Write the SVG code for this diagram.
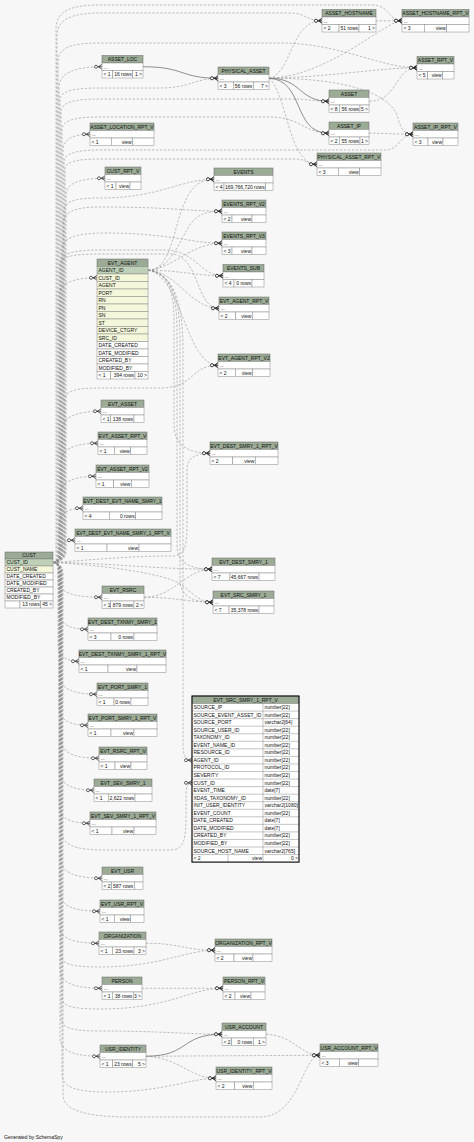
<svg xmlns="http://www.w3.org/2000/svg" width="474" height="1142" viewBox="0 0 474 1142">
<style>
.h{fill:#9bab96;stroke:#666;stroke-width:.5}
.w{fill:#fff;stroke:#888;stroke-width:.5}
.k{fill:#bed1b8;stroke:#888;stroke-width:.5}
.y{fill:#f4f7da;stroke:#888;stroke-width:.5}
.g{fill:none;stroke:#888;stroke-width:.5}
text{font-family:"Liberation Sans",Arial,sans-serif;font-size:5px;fill:#111}
.c{text-anchor:middle}
.r{text-anchor:end}
.e{fill:none;stroke:#8c8c8c;stroke-width:.55;stroke-dasharray:2.4,1.6;marker-end:url(#cf)}
.s{fill:none;stroke:#555;stroke-width:.65;marker-end:url(#cf)}
</style>
<defs>
<marker id="cf" viewBox="0 0 8 6" refX="8" refY="3" markerWidth="8" markerHeight="6" markerUnits="userSpaceOnUse" orient="auto">
<circle cx="2" cy="3" r="1.5" fill="#fff" stroke="#222" stroke-width=".7"/>
<path d="M8,0.6 L4.3,3 L8,5.4 M3.6,3 H8" fill="none" stroke="#222" stroke-width=".7"/>
</marker>
</defs>
<rect x="0" y="0" width="474" height="1142" fill="#f7f7f7"/>
<g id="connectors">
<path class="e" d="M53,562.5 C57,562.5 56,560 56,552 L56,30 C56,12 68,5 100,5 L372,5 C390,5 388,20.75 402,20.75"/>
<path class="e" d="M53,562.5 C57,562.5 57,560 57,552 L57,36 C57,20 70,13 100,13 L290,13 C306,13 306,20.75 322,20.75"/>
<path class="e" d="M53,562.5 C57,562.5 58,560 58,552 L58,62 C58,48 70,43 100,43 L280,43 C340,43 380,67.75 417,67.75"/>
<path class="e" d="M53,562.5 C57,562.5 59,560 59,552 L59,88 C59,74 72,66.75 102,66.75"/>
<path class="e" d="M53,562.5 C57,562.5 60,560 60,552 L60,100 C60,92 70,88 100,88 L160,88 C190,88 195,78.25 218,78.25"/>
<path class="e" d="M53,562.5 C57,562.5 61,560 61,552 L61,112 C61,103 72,99 100,99 L290,99 C310,99 312,101.25 329,101.25"/>
<path class="e" d="M53,562.5 C57,562.5 62,560 62,552 L62,130 C62,121 72,117 100,117 L270,117 C300,117 305,133.25 329,133.25"/>
<path class="e" d="M53,562.5 C57,562.5 63,560 63,552 L63,150 C63,140 72,134.25 90,134.25"/>
<path class="e" d="M53,562.5 C57,562.5 64,560 64,552 L64,162 C64,154 74,150 100,150 L385,150 C400,150 400,134.25 413,134.25"/>
<path class="e" d="M53,562.5 C57,562.5 65,560 65,552 L65,170 C65,162 75,159 100,159 L295,159 C306,159 307,164.25 317,164.25"/>
<path class="e" d="M53,562.5 C57,562.5 66,560 66,552 L66,195 C66,184 78,178.25 105,178.25"/>
<path class="e" d="M53,562.5 C57,562.5 64,560 64,552 L64,212 C64,202 72,198 100,198 C160,198 180,179.25 214,179.25"/>
<path class="e" d="M53,562.5 C57,562.5 63,560 63,552 L63,225 C63,213 72,207 100,207 C170,207 190,211.25 222,211.25"/>
<path class="e" d="M53,562.5 C57,562.5 62,560 62,552 L62,250 C62,238 75,233 105,233 C170,233 190,243.25 222,243.25"/>
<path class="e" d="M53,562.5 C57,562.5 61,560 61,552 L61,262 C61,254 72,250 100,250 L165,250 C195,250 200,275.75 223,275.75"/>
<path class="e" d="M53,562.5 C57,562.5 60,560 60,552 L60,265 C60,257 70,254 100,254 L170,254 C200,254 195,308.25 219,308.25"/>
<path class="e" d="M53,562.5 C57,562.5 59,560 59,552 L59,296 C59,284 72,277.75 97,277.75"/>
<path class="e" d="M53,562.5 C57,562.5 65,560 65,552 L65,400 C65,391 75,388 100,388 L160,388 C195,388 190,365.25 218,365.25"/>
<path class="e" d="M53,562.5 C57,562.5 62,560 62,552 L62,430 C62,418 75,411.25 101,411.25"/>
<path class="e" d="M53,562.5 C57,562.5 61,560 61,552 L61,462 C61,450 73,443.25 98,443.25"/>
<path class="e" d="M53,562.5 C57,562.5 60,560 60,552 L60,495 C60,483 72,476.25 96,476.25"/>
<path class="e" d="M53,562.5 C57,562.5 59,560 59,552 L59,526 C59,514 67,508.25 83,508.25"/>
<path class="e" d="M53,562.5 C57,562.5 58,559 58,555 C58,545 64,540.25 75,540.25"/>
<path class="e" d="M53,562.5 C90,560 130,556 172,556 C186,556 187,545 187,520 L187,470 C187,458 195,453.25 210,453.25"/>
<path class="e" d="M53,562.5 C100,562.5 160,569.25 212,569.25"/>
<path class="e" d="M53,562.5 C100,565 150,572 172,580 C190,587 195,602.25 213,602.25"/>
<path class="e" d="M53,562.5 C57,562.5 58,566 58,572 L58,580 C58,592 72,597.25 102,597.25"/>
<path class="e" d="M53,562.5 C57,562.5 59,565 59,573 L59,612 C59,623 68,629.25 88,629.25"/>
<path class="e" d="M53,562.5 C57,562.5 58,565 58,573 L58,644 C58,655 65,661.25 79,661.25"/>
<path class="e" d="M53,562.5 C57,562.5 60,565 60,573 L60,676 C60,688 72,694.25 97,694.25"/>
<path class="e" d="M53,562.5 C57,562.5 59,565 59,573 L59,707 C59,719 68,725.25 88,725.25"/>
<path class="e" d="M53,562.5 C57,562.5 61,565 61,573 L61,740 C61,752 73,758.25 99,758.25"/>
<path class="e" d="M53,562.5 C57,562.5 60,565 60,573 L60,772 C60,784 72,790.25 94,790.25"/>
<path class="e" d="M53,562.5 C57,562.5 59,565 59,573 L59,805 C59,817 68,823.25 90,823.25"/>
<path class="e" d="M53,562.5 C57,562.5 62,565 62,573 L62,832 C62,845 75,850 105,850 L170,850 C184,850 186,840 186,815 L186,795 C186,786 188,782.8 192,782.8"/>
<path class="e" d="M53,562.5 C57,562.5 61,565 61,573 L61,860 C61,872 75,878.25 102,878.25"/>
<path class="e" d="M53,562.5 C57,562.5 60,565 60,573 L60,893 C60,905 72,911.25 100,911.25"/>
<path class="e" d="M53,562.5 C57,562.5 59,565 59,573 L59,925 C59,937 70,943.25 99,943.25"/>
<path class="e" d="M53,562.5 C57,562.5 61,565 61,573 L61,955 C61,964 72,967 100,967 C160,967 185,950.25 215,950.25"/>
<path class="e" d="M53,562.5 C57,562.5 60,565 60,573 L60,970 C60,982 72,988.25 102,988.25"/>
<path class="e" d="M53,562.5 C57,562.5 62,565 62,573 L62,998 C62,1006 72,1009 100,1009 C170,1009 190,988.25 223,988.25"/>
<path class="e" d="M53,562.5 C57,562.5 61,565 61,573 L61,1018 C61,1028 72,1031 100,1031 C160,1031 190,1034.25 222,1034.25"/>
<path class="e" d="M53,562.5 C57,562.5 60,565 60,573 L60,1038 C60,1050 72,1056.25 100,1056.25"/>
<path class="e" d="M53,562.5 C57,562.5 62,565 62,573 L62,1075 C62,1086 75,1092 105,1092 C165,1092 190,1078.25 216,1078.25"/>
<path class="e" d="M53,562.5 C57,562.5 63,565 63,573 L63,1095 C63,1110 85,1117 130,1117 L260,1117 C300,1117 302,1055.25 320,1055.25"/>
<path class="e" d="M148,270.25 C168,270 172,240 180,215 C188,190 197,179.25 214,179.25"/>
<path class="e" d="M148,270.25 C170,269 178,245 188,228 C196,214 206,211.25 222,211.25"/>
<path class="e" d="M148,270.25 C175,268 190,243.25 222,243.25"/>
<path class="e" d="M148,270.25 C180,270.25 195,275.75 223,275.75"/>
<path class="e" d="M148,270.25 C178,272 190,308.25 219,308.25"/>
<path class="e" d="M148,270.25 C182,276 186,365.25 218,365.25"/>
<path class="e" d="M148,270.25 C168,272 174,292 174,320 L174,425 C174,445 188,453.25 210,453.25"/>
<path class="e" d="M148,270.25 C170,272 177,295 177,330 L177,545 C177,563 190,569.25 212,569.25"/>
<path class="e" d="M148,270.25 C172,273 180,298 180,340 L180,580 C180,596 193,602.25 213,602.25"/>
<path class="e" d="M148,270.25 C174,274 183,302 183,350 L183,745 C183,756 186,760.2 192,760.2"/>
<path class="e" d="M144,597.25 C175,597 185,569.25 212,569.25"/>
<path class="e" d="M144,597.25 C175,597.25 190,602.25 213,602.25"/>
<path class="s" d="M143,66.75 C185,66.75 180,78.25 218,78.25"/>
<path class="s" d="M269,78.25 C302,78.25 298,101.25 329,101.25"/>
<path class="s" d="M269,78.25 C305,80 292,133.25 329,133.25"/>
<path class="e" d="M269,78.25 C292,74 290,20.75 322,20.75"/>
<path class="e" d="M269,78.25 C330,76 385,20.75 402,20.75"/>
<path class="e" d="M269,78.25 C330,77 380,67.75 417,67.75"/>
<path class="e" d="M269,78.25 C350,78 392,95 398,118 C401,130 405,134.25 413,134.25"/>
<path class="e" d="M269,78.25 C288,95 288,164.25 317,164.25"/>
<path class="e" d="M376,20.75 L402,20.75"/>
<path class="e" d="M369,101.25 C398,101 395,67.75 417,67.75"/>
<path class="e" d="M369,133.25 C390,133.25 395,134.25 413,134.25"/>
<path class="e" d="M146,943.25 C180,943.25 185,950.25 215,950.25"/>
<path class="e" d="M142,988.25 L223,988.25"/>
<path class="s" d="M146,1056.25 C190,1056 180,1034.25 222,1034.25"/>
<path class="e" d="M146,1056.25 C180,1058 190,1078.25 216,1078.25"/>
<path class="e" d="M146,1056.25 L320,1055.25"/>
<path class="e" d="M266,1034.25 C295,1036 300,1055.25 320,1055.25"/>
</g>
<g id="ASSET_HOSTNAME"><rect class="h" x="322" y="9.5" width="54" height="7.5"/><rect class="w" x="322" y="17" width="54" height="7.5"/><rect class="w" x="322" y="24.5" width="17" height="7.5"/><rect class="w" x="339" y="24.5" width="20" height="7.5"/><rect class="w" x="359" y="24.5" width="17" height="7.5"/><text class="c" x="349" y="15">ASSET_HOSTNAME</text><text x="323.5" y="22.5">...</text><text x="323.5" y="30">&lt; 2</text><text class="r" x="358" y="30">51 rows</text><text class="r" x="375" y="30">1 &gt;</text></g>
<g id="ASSET_HOSTNAME_RPT_V"><rect class="h" x="402" y="9.5" width="67" height="7.5"/><rect class="w" x="402" y="17" width="67" height="7.5"/><rect class="w" x="402" y="24.5" width="22.3" height="7.5"/><rect class="w" x="424.3" y="24.5" width="22.4" height="7.5"/><rect class="w" x="446.7" y="24.5" width="22.3" height="7.5"/><text class="c" x="435.5" y="15">ASSET_HOSTNAME_RPT_V</text><text x="403.5" y="22.5">...</text><text x="403.5" y="30">&lt; 3</text><text class="r" x="445.7" y="30">view</text></g>
<g id="PHYSICAL_ASSET"><rect class="h" x="218" y="67" width="51" height="7.5"/><rect class="w" x="218" y="74.5" width="51" height="7.5"/><rect class="w" x="218" y="82" width="15.3" height="7.5"/><rect class="w" x="233.3" y="82" width="20" height="7.5"/><rect class="w" x="253.3" y="82" width="15.7" height="7.5"/><text class="c" x="243.5" y="72.5">PHYSICAL_ASSET</text><text x="219.5" y="80">...</text><text x="219.5" y="87.5">&lt; 3</text><text class="r" x="252.3" y="87.5">56 rows</text><text class="r" x="268" y="87.5">7 &gt;</text></g>
<g id="ASSET_RPT_V"><rect class="h" x="417" y="56.5" width="37" height="7.5"/><rect class="w" x="417" y="64" width="37" height="7.5"/><rect class="w" x="417" y="71.5" width="10.7" height="7.5"/><rect class="w" x="427.7" y="71.5" width="15" height="7.5"/><rect class="w" x="442.7" y="71.5" width="11.3" height="7.5"/><text class="c" x="435.5" y="62">ASSET_RPT_V</text><text x="418.5" y="69.5">...</text><text x="418.5" y="77">&lt; 5</text><text class="r" x="441.7" y="77">view</text></g>
<g id="ASSET"><rect class="h" x="329" y="90" width="40" height="7.5"/><rect class="w" x="329" y="97.5" width="40" height="7.5"/><rect class="w" x="329" y="105" width="10.3" height="7.5"/><rect class="w" x="339.3" y="105" width="20.7" height="7.5"/><rect class="w" x="360" y="105" width="9" height="7.5"/><text class="c" x="349" y="95.5">ASSET</text><text x="330.5" y="103">...</text><text x="330.5" y="110.5">&lt; 8</text><text class="r" x="359" y="110.5">56 rows</text><text class="r" x="368" y="110.5">5 &gt;</text></g>
<g id="ASSET_IP"><rect class="h" x="329" y="122" width="40" height="7.5"/><rect class="w" x="329" y="129.5" width="40" height="7.5"/><rect class="w" x="329" y="137" width="10.3" height="7.5"/><rect class="w" x="339.3" y="137" width="20.7" height="7.5"/><rect class="w" x="360" y="137" width="9" height="7.5"/><text class="c" x="349" y="127.5">ASSET_IP</text><text x="330.5" y="135">...</text><text x="330.5" y="142.5">&lt; 2</text><text class="r" x="359" y="142.5">55 rows</text><text class="r" x="368" y="142.5">1 &gt;</text></g>
<g id="ASSET_IP_RPT_V"><rect class="h" x="413" y="123" width="45" height="7.5"/><rect class="w" x="413" y="130.5" width="45" height="7.5"/><rect class="w" x="413" y="138" width="15" height="7.5"/><rect class="w" x="428" y="138" width="15" height="7.5"/><rect class="w" x="443" y="138" width="15" height="7.5"/><text class="c" x="435.5" y="128.5">ASSET_IP_RPT_V</text><text x="414.5" y="136">...</text><text x="414.5" y="143.5">&lt; 3</text><text class="r" x="442" y="143.5">view</text></g>
<g id="PHYSICAL_ASSET_RPT_V"><rect class="h" x="317" y="153" width="64" height="7.5"/><rect class="w" x="317" y="160.5" width="64" height="7.5"/><rect class="w" x="317" y="168" width="21.3" height="7.5"/><rect class="w" x="338.3" y="168" width="21.4" height="7.5"/><rect class="w" x="359.7" y="168" width="21.3" height="7.5"/><text class="c" x="349" y="158.5">PHYSICAL_ASSET_RPT_V</text><text x="318.5" y="166">...</text><text x="318.5" y="173.5">&lt; 3</text><text class="r" x="358.7" y="173.5">view</text></g>
<g id="ASSET_LOC"><rect class="h" x="102" y="55.5" width="41" height="7.5"/><rect class="w" x="102" y="63" width="41" height="7.5"/><rect class="w" x="102" y="70.5" width="10.7" height="7.5"/><rect class="w" x="112.7" y="70.5" width="20" height="7.5"/><rect class="w" x="132.7" y="70.5" width="10.3" height="7.5"/><text class="c" x="122.5" y="61">ASSET_LOC</text><text x="103.5" y="68.5">...</text><text x="103.5" y="76">&lt; 1</text><text class="r" x="131.7" y="76">16 rows</text><text class="r" x="142" y="76">1 &gt;</text></g>
<g id="ASSET_LOCATION_RPT_V"><rect class="h" x="90" y="123" width="64" height="7.5"/><rect class="w" x="90" y="130.5" width="64" height="7.5"/><rect class="w" x="90" y="138" width="21.3" height="7.5"/><rect class="w" x="111.3" y="138" width="21.4" height="7.5"/><rect class="w" x="132.7" y="138" width="21.3" height="7.5"/><text class="c" x="122" y="128.5">ASSET_LOCATION_RPT_V</text><text x="91.5" y="136">...</text><text x="91.5" y="143.5">&lt; 1</text><text class="r" x="131.7" y="143.5">view</text></g>
<g id="CUST_RPT_V"><rect class="h" x="105" y="167" width="36" height="7.5"/><rect class="w" x="105" y="174.5" width="36" height="7.5"/><rect class="w" x="105" y="182" width="11" height="7.5"/><rect class="w" x="116" y="182" width="14" height="7.5"/><rect class="w" x="130" y="182" width="11" height="7.5"/><text class="c" x="123" y="172.5">CUST_RPT_V</text><text x="106.5" y="180">...</text><text x="106.5" y="187.5">&lt; 1</text><text class="r" x="129" y="187.5">view</text></g>
<g id="EVENTS"><rect class="h" x="214" y="168" width="59" height="7.5"/><rect class="w" x="214" y="175.5" width="59" height="7.5"/><rect class="w" x="214" y="183" width="10" height="7.5"/><rect class="w" x="224" y="183" width="41.7" height="7.5"/><rect class="w" x="265.7" y="183" width="7.3" height="7.5"/><text class="c" x="243.5" y="173.5">EVENTS</text><text x="215.5" y="181">...</text><text x="215.5" y="188.5">&lt; 4</text><text class="r" x="264.7" y="188.5">169,766,720 rows</text></g>
<g id="EVENTS_RPT_V2"><rect class="h" x="222" y="200" width="44" height="7.5"/><rect class="w" x="222" y="207.5" width="44" height="7.5"/><rect class="w" x="222" y="215" width="10" height="7.5"/><rect class="w" x="232" y="215" width="20" height="7.5"/><rect class="w" x="252" y="215" width="14" height="7.5"/><text class="c" x="244" y="205.5">EVENTS_RPT_V2</text><text x="223.5" y="213">...</text><text x="223.5" y="220.5">&lt; 2</text><text class="r" x="251" y="220.5">view</text></g>
<g id="EVENTS_RPT_V3"><rect class="h" x="222" y="232" width="44" height="7.5"/><rect class="w" x="222" y="239.5" width="44" height="7.5"/><rect class="w" x="222" y="247" width="10" height="7.5"/><rect class="w" x="232" y="247" width="20" height="7.5"/><rect class="w" x="252" y="247" width="14" height="7.5"/><text class="c" x="244" y="237.5">EVENTS_RPT_V3</text><text x="223.5" y="245">...</text><text x="223.5" y="252.5">&lt; 3</text><text class="r" x="251" y="252.5">view</text></g>
<g id="EVENTS_SUB"><rect class="h" x="223" y="264.5" width="41" height="7.5"/><rect class="w" x="223" y="272" width="41" height="7.5"/><rect class="w" x="223" y="279.5" width="11" height="7.5"/><rect class="w" x="234" y="279.5" width="18" height="7.5"/><rect class="w" x="252" y="279.5" width="12" height="7.5"/><text class="c" x="243.5" y="270">EVENTS_SUB</text><text x="224.5" y="277.5">...</text><text x="224.5" y="285">&lt; 4</text><text class="r" x="251" y="285">0 rows</text></g>
<g id="EVT_AGENT"><rect class="h" x="97" y="259" width="51" height="7.5"/><rect class="k" x="97" y="266.5" width="51" height="7.5"/><rect class="y" x="97" y="274" width="51" height="7.5"/><rect class="y" x="97" y="281.5" width="51" height="7.5"/><rect class="y" x="97" y="289" width="51" height="7.5"/><rect class="y" x="97" y="296.5" width="51" height="7.5"/><rect class="y" x="97" y="304" width="51" height="7.5"/><rect class="y" x="97" y="311.5" width="51" height="7.5"/><rect class="y" x="97" y="319" width="51" height="7.5"/><rect class="y" x="97" y="326.5" width="51" height="7.5"/><rect class="y" x="97" y="334" width="51" height="7.5"/><rect class="w" x="97" y="341.5" width="51" height="7.5"/><rect class="w" x="97" y="349" width="51" height="7.5"/><rect class="w" x="97" y="356.5" width="51" height="7.5"/><rect class="w" x="97" y="364" width="51" height="7.5"/><rect class="w" x="97" y="371.5" width="13.7" height="7.5"/><rect class="w" x="110.7" y="371.5" width="24.3" height="7.5"/><rect class="w" x="135" y="371.5" width="13" height="7.5"/><text class="c" x="122.5" y="264.5">EVT_AGENT</text><text x="98.5" y="272">AGENT_ID</text><text x="98.5" y="279.5">CUST_ID</text><text x="98.5" y="287">AGENT</text><text x="98.5" y="294.5">PORT</text><text x="98.5" y="302">RN</text><text x="98.5" y="309.5">PN</text><text x="98.5" y="317">SN</text><text x="98.5" y="324.5">ST</text><text x="98.5" y="332">DEVICE_CTGRY</text><text x="98.5" y="339.5">SRC_ID</text><text x="98.5" y="347">DATE_CREATED</text><text x="98.5" y="354.5">DATE_MODIFIED</text><text x="98.5" y="362">CREATED_BY</text><text x="98.5" y="369.5">MODIFIED_BY</text><text x="98.5" y="377">&lt; 1</text><text class="r" x="134" y="377">394 rows</text><text class="r" x="147" y="377">10 &gt;</text></g>
<g id="EVT_AGENT_RPT_V"><rect class="h" x="219" y="297" width="50" height="7.5"/><rect class="w" x="219" y="304.5" width="50" height="7.5"/><rect class="w" x="219" y="312" width="16.7" height="7.5"/><rect class="w" x="235.7" y="312" width="16.6" height="7.5"/><rect class="w" x="252.3" y="312" width="16.7" height="7.5"/><text class="c" x="244" y="302.5">EVT_AGENT_RPT_V</text><text x="220.5" y="310">...</text><text x="220.5" y="317.5">&lt; 2</text><text class="r" x="251.3" y="317.5">view</text></g>
<g id="EVT_AGENT_RPT_V2"><rect class="h" x="218" y="354" width="52" height="7.5"/><rect class="w" x="218" y="361.5" width="52" height="7.5"/><rect class="w" x="218" y="369" width="17.3" height="7.5"/><rect class="w" x="235.3" y="369" width="17.4" height="7.5"/><rect class="w" x="252.7" y="369" width="17.3" height="7.5"/><text class="c" x="244" y="359.5">EVT_AGENT_RPT_V2</text><text x="219.5" y="367">...</text><text x="219.5" y="374.5">&lt; 2</text><text class="r" x="251.7" y="374.5">view</text></g>
<g id="EVT_ASSET"><rect class="h" x="101" y="400" width="43" height="7.5"/><rect class="w" x="101" y="407.5" width="43" height="7.5"/><rect class="w" x="101" y="415" width="9.7" height="7.5"/><rect class="w" x="110.7" y="415" width="23.3" height="7.5"/><rect class="w" x="134" y="415" width="10" height="7.5"/><text class="c" x="122.5" y="405.5">EVT_ASSET</text><text x="102.5" y="413">...</text><text x="102.5" y="420.5">&lt; 1</text><text class="r" x="133" y="420.5">138 rows</text></g>
<g id="EVT_ASSET_RPT_V"><rect class="h" x="98" y="432" width="49" height="7.5"/><rect class="w" x="98" y="439.5" width="49" height="7.5"/><rect class="w" x="98" y="447" width="16.3" height="7.5"/><rect class="w" x="114.3" y="447" width="16.4" height="7.5"/><rect class="w" x="130.7" y="447" width="16.3" height="7.5"/><text class="c" x="122.5" y="437.5">EVT_ASSET_RPT_V</text><text x="99.5" y="445">...</text><text x="99.5" y="452.5">&lt; 1</text><text class="r" x="129.7" y="452.5">view</text></g>
<g id="EVT_ASSET_RPT_V2"><rect class="h" x="96" y="465" width="53" height="7.5"/><rect class="w" x="96" y="472.5" width="53" height="7.5"/><rect class="w" x="96" y="480" width="17.7" height="7.5"/><rect class="w" x="113.7" y="480" width="17.6" height="7.5"/><rect class="w" x="131.3" y="480" width="17.7" height="7.5"/><text class="c" x="122.5" y="470.5">EVT_ASSET_RPT_V2</text><text x="97.5" y="478">...</text><text x="97.5" y="485.5">&lt; 1</text><text class="r" x="130.3" y="485.5">view</text></g>
<g id="EVT_DEST_EVT_NAME_SMRY_1"><rect class="h" x="83" y="497" width="79" height="7.5"/><rect class="w" x="83" y="504.5" width="79" height="7.5"/><rect class="w" x="83" y="512" width="26.3" height="7.5"/><rect class="w" x="109.3" y="512" width="26.4" height="7.5"/><rect class="w" x="135.7" y="512" width="26.3" height="7.5"/><text class="c" x="122.5" y="502.5">EVT_DEST_EVT_NAME_SMRY_1</text><text x="84.5" y="510">...</text><text x="84.5" y="517.5">&lt; 4</text><text class="r" x="134.7" y="517.5">0 rows</text></g>
<g id="EVT_DEST_EVT_NAME_SMRY_1_RPT_V"><rect class="h" x="75" y="529" width="96" height="7.5"/><rect class="w" x="75" y="536.5" width="96" height="7.5"/><rect class="w" x="75" y="544" width="32" height="7.5"/><rect class="w" x="107" y="544" width="32" height="7.5"/><rect class="w" x="139" y="544" width="32" height="7.5"/><text class="c" x="123" y="534.5" style="font-size:4.8px">EVT_DEST_EVT_NAME_SMRY_1_RPT_V</text><text x="76.5" y="542">...</text><text x="76.5" y="549.5">&lt; 1</text><text class="r" x="138" y="549.5">view</text></g>
<g id="EVT_DEST_SMRY_1_RPT_V"><rect class="h" x="210" y="442" width="68" height="7.5"/><rect class="w" x="210" y="449.5" width="68" height="7.5"/><rect class="w" x="210" y="457" width="22.7" height="7.5"/><rect class="w" x="232.7" y="457" width="22.6" height="7.5"/><rect class="w" x="255.3" y="457" width="22.7" height="7.5"/><text class="c" x="244" y="447.5">EVT_DEST_SMRY_1_RPT_V</text><text x="211.5" y="455">...</text><text x="211.5" y="462.5">&lt; 2</text><text class="r" x="254.3" y="462.5">view</text></g>
<g id="EVT_DEST_SMRY_1"><rect class="h" x="212" y="558" width="63" height="7.5"/><rect class="w" x="212" y="565.5" width="63" height="7.5"/><rect class="w" x="212" y="573" width="18" height="7.5"/><rect class="w" x="230" y="573" width="29" height="7.5"/><rect class="w" x="259" y="573" width="16" height="7.5"/><text class="c" x="243.5" y="563.5">EVT_DEST_SMRY_1</text><text x="213.5" y="571">...</text><text x="213.5" y="578.5">&lt; 7</text><text class="r" x="258" y="578.5">45,667 rows</text></g>
<g id="EVT_SRC_SMRY_1"><rect class="h" x="213" y="591" width="61" height="7.5"/><rect class="w" x="213" y="598.5" width="61" height="7.5"/><rect class="w" x="213" y="606" width="16" height="7.5"/><rect class="w" x="229" y="606" width="30" height="7.5"/><rect class="w" x="259" y="606" width="15" height="7.5"/><text class="c" x="243.5" y="596.5">EVT_SRC_SMRY_1</text><text x="214.5" y="604">...</text><text x="214.5" y="611.5">&lt; 7</text><text class="r" x="258" y="611.5">35,378 rows</text></g>
<g id="CUST"><rect class="h" x="5" y="552" width="48" height="7"/><rect class="k" x="5" y="559" width="48" height="7"/><rect class="y" x="5" y="566" width="48" height="7"/><rect class="w" x="5" y="573" width="48" height="7"/><rect class="w" x="5" y="580" width="48" height="7"/><rect class="w" x="5" y="587" width="48" height="7"/><rect class="w" x="5" y="594" width="48" height="7"/><rect class="w" x="5" y="601" width="15" height="7"/><rect class="w" x="20" y="601" width="20.7" height="7"/><rect class="w" x="40.7" y="601" width="12.3" height="7"/><text class="c" x="29" y="557.2">CUST</text><text x="6.5" y="564.2">CUST_ID</text><text x="6.5" y="571.2">CUST_NAME</text><text x="6.5" y="578.2">DATE_CREATED</text><text x="6.5" y="585.2">DATE_MODIFIED</text><text x="6.5" y="592.2">CREATED_BY</text><text x="6.5" y="599.2">MODIFIED_BY</text><text class="r" x="39.7" y="606.2">13 rows</text><text class="r" x="52" y="606.2">45 &gt;</text></g>
<g id="EVT_RSRC"><rect class="h" x="102" y="586" width="42" height="7.5"/><rect class="w" x="102" y="593.5" width="42" height="7.5"/><rect class="w" x="102" y="601" width="8.7" height="7.5"/><rect class="w" x="110.7" y="601" width="23.3" height="7.5"/><rect class="w" x="134" y="601" width="10" height="7.5"/><text class="c" x="123" y="591.5">EVT_RSRC</text><text x="103.5" y="599">...</text><text x="103.5" y="606.5">&lt; 1</text><text class="r" x="133" y="606.5">879 rows</text><text class="r" x="143" y="606.5">2 &gt;</text></g>
<g id="EVT_DEST_TXNMY_SMRY_1"><rect class="h" x="88" y="618" width="69" height="7.5"/><rect class="w" x="88" y="625.5" width="69" height="7.5"/><rect class="w" x="88" y="633" width="23" height="7.5"/><rect class="w" x="111" y="633" width="23" height="7.5"/><rect class="w" x="134" y="633" width="23" height="7.5"/><text class="c" x="122.5" y="623.5">EVT_DEST_TXNMY_SMRY_1</text><text x="89.5" y="631">...</text><text x="89.5" y="638.5">&lt; 3</text><text class="r" x="133" y="638.5">0 rows</text></g>
<g id="EVT_DEST_TXNMY_SMRY_1_RPT_V"><rect class="h" x="79" y="650" width="87" height="7.5"/><rect class="w" x="79" y="657.5" width="87" height="7.5"/><rect class="w" x="79" y="665" width="29" height="7.5"/><rect class="w" x="108" y="665" width="29" height="7.5"/><rect class="w" x="137" y="665" width="29" height="7.5"/><text class="c" x="122.5" y="655.5">EVT_DEST_TXNMY_SMRY_1_RPT_V</text><text x="80.5" y="663">...</text><text x="80.5" y="670.5">&lt; 1</text><text class="r" x="136" y="670.5">view</text></g>
<g id="EVT_PORT_SMRY_1"><rect class="h" x="97" y="683" width="51" height="7.5"/><rect class="w" x="97" y="690.5" width="51" height="7.5"/><rect class="w" x="97" y="698" width="17" height="7.5"/><rect class="w" x="114" y="698" width="17" height="7.5"/><rect class="w" x="131" y="698" width="17" height="7.5"/><text class="c" x="122.5" y="688.5">EVT_PORT_SMRY_1</text><text x="98.5" y="696">...</text><text x="98.5" y="703.5">&lt; 1</text><text class="r" x="130" y="703.5">0 rows</text></g>
<g id="EVT_PORT_SMRY_1_RPT_V"><rect class="h" x="88" y="714" width="69" height="7.5"/><rect class="w" x="88" y="721.5" width="69" height="7.5"/><rect class="w" x="88" y="729" width="23" height="7.5"/><rect class="w" x="111" y="729" width="23" height="7.5"/><rect class="w" x="134" y="729" width="23" height="7.5"/><text class="c" x="122.5" y="719.5">EVT_PORT_SMRY_1_RPT_V</text><text x="89.5" y="727">...</text><text x="89.5" y="734.5">&lt; 1</text><text class="r" x="133" y="734.5">view</text></g>
<g id="EVT_RSRC_RPT_V"><rect class="h" x="99" y="747" width="48" height="7.5"/><rect class="w" x="99" y="754.5" width="48" height="7.5"/><rect class="w" x="99" y="762" width="16" height="7.5"/><rect class="w" x="115" y="762" width="16" height="7.5"/><rect class="w" x="131" y="762" width="16" height="7.5"/><text class="c" x="123" y="752.5">EVT_RSRC_RPT_V</text><text x="100.5" y="760">...</text><text x="100.5" y="767.5">&lt; 1</text><text class="r" x="130" y="767.5">view</text></g>
<g id="EVT_SEV_SMRY_1"><rect class="h" x="94" y="779" width="58" height="7.5"/><rect class="w" x="94" y="786.5" width="58" height="7.5"/><rect class="w" x="94" y="794" width="14.3" height="7.5"/><rect class="w" x="108.3" y="794" width="26.7" height="7.5"/><rect class="w" x="135" y="794" width="17" height="7.5"/><text class="c" x="123" y="784.5">EVT_SEV_SMRY_1</text><text x="95.5" y="792">...</text><text x="95.5" y="799.5">&lt; 1</text><text class="r" x="134" y="799.5">2,622 rows</text></g>
<g id="EVT_SEV_SMRY_1_RPT_V"><rect class="h" x="90" y="812" width="66" height="7.5"/><rect class="w" x="90" y="819.5" width="66" height="7.5"/><rect class="w" x="90" y="827" width="22" height="7.5"/><rect class="w" x="112" y="827" width="22" height="7.5"/><rect class="w" x="134" y="827" width="22" height="7.5"/><text class="c" x="123" y="817.5">EVT_SEV_SMRY_1_RPT_V</text><text x="91.5" y="825">...</text><text x="91.5" y="832.5">&lt; 1</text><text class="r" x="133" y="832.5">view</text></g>
<g id="EVT_SRC_SMRY_1_RPT_V"><rect class="h" x="192" y="696" width="107" height="7.55"/><rect class="w" x="192" y="703.55" width="107" height="158.55"/><path class="g" d="M192,711.1H299M192,718.65H299M192,726.2H299M192,733.75H299M192,741.3H299M192,748.85H299M192,756.4H299M192,763.95H299M192,771.5H299M192,779.05H299M192,786.6H299M192,794.15H299M192,801.7H299M192,809.25H299M192,816.8H299M192,824.35H299M192,831.9H299M192,839.45H299M192,847H299M192,854.55H299M263,703.55V862.1M228,854.55V862.1"/><rect x="192" y="696" width="107" height="166.1" fill="none" stroke="#111" stroke-width="1.1"/><text class="c" x="245.5" y="701.5">EVT_SRC_SMRY_1_RPT_V</text><text x="193.5" y="709.05">SOURCE_IP</text><text x="264.5" y="709.05">number[22]</text><text x="193.5" y="716.6">SOURCE_EVENT_ASSET_ID</text><text x="264.5" y="716.6">number[22]</text><text x="193.5" y="724.15">SOURCE_PORT</text><text x="264.5" y="724.15">varchar2[64]</text><text x="193.5" y="731.7">SOURCE_USER_ID</text><text x="264.5" y="731.7">number[22]</text><text x="193.5" y="739.25">TAXONOMY_ID</text><text x="264.5" y="739.25">number[22]</text><text x="193.5" y="746.8">EVENT_NAME_ID</text><text x="264.5" y="746.8">number[22]</text><text x="193.5" y="754.35">RESOURCE_ID</text><text x="264.5" y="754.35">number[22]</text><text x="193.5" y="761.9">AGENT_ID</text><text x="264.5" y="761.9">number[22]</text><text x="193.5" y="769.45">PROTOCOL_ID</text><text x="264.5" y="769.45">number[22]</text><text x="193.5" y="777">SEVERITY</text><text x="264.5" y="777">number[22]</text><text x="193.5" y="784.55">CUST_ID</text><text x="264.5" y="784.55">number[22]</text><text x="193.5" y="792.1">EVENT_TIME</text><text x="264.5" y="792.1">date[7]</text><text x="193.5" y="799.65">XDAS_TAXONOMY_ID</text><text x="264.5" y="799.65">number[22]</text><text x="193.5" y="807.2">INIT_USER_IDENTITY</text><text x="264.5" y="807.2">varchar2[1080]</text><text x="193.5" y="814.75">EVENT_COUNT</text><text x="264.5" y="814.75">number[22]</text><text x="193.5" y="822.3">DATE_CREATED</text><text x="264.5" y="822.3">date[7]</text><text x="193.5" y="829.85">DATE_MODIFIED</text><text x="264.5" y="829.85">date[7]</text><text x="193.5" y="837.4">CREATED_BY</text><text x="264.5" y="837.4">number[22]</text><text x="193.5" y="844.95">MODIFIED_BY</text><text x="264.5" y="844.95">number[22]</text><text x="193.5" y="852.5">SOURCE_HOST_NAME</text><text x="264.5" y="852.5">varchar2[765]</text><text x="193.5" y="860.05">&lt; 2</text><text class="r" x="262" y="860.05">view</text><text class="r" x="298" y="860.05">0 &gt;</text></g>
<g id="EVT_USR"><rect class="h" x="102" y="867" width="41" height="7.5"/><rect class="w" x="102" y="874.5" width="41" height="7.5"/><rect class="w" x="102" y="882" width="9.7" height="7.5"/><rect class="w" x="111.7" y="882" width="22.6" height="7.5"/><rect class="w" x="134.3" y="882" width="8.7" height="7.5"/><text class="c" x="122.5" y="872.5">EVT_USR</text><text x="103.5" y="880">...</text><text x="103.5" y="887.5">&lt; 2</text><text class="r" x="133.3" y="887.5">587 rows</text></g>
<g id="EVT_USR_RPT_V"><rect class="h" x="100" y="900" width="44" height="7.5"/><rect class="w" x="100" y="907.5" width="44" height="7.5"/><rect class="w" x="100" y="915" width="14.3" height="7.5"/><rect class="w" x="114.3" y="915" width="16.4" height="7.5"/><rect class="w" x="130.7" y="915" width="13.3" height="7.5"/><text class="c" x="122" y="905.5">EVT_USR_RPT_V</text><text x="101.5" y="913">...</text><text x="101.5" y="920.5">&lt; 1</text><text class="r" x="129.7" y="920.5">view</text></g>
<g id="ORGANIZATION"><rect class="h" x="99" y="932" width="47" height="7.5"/><rect class="w" x="99" y="939.5" width="47" height="7.5"/><rect class="w" x="99" y="947" width="13.3" height="7.5"/><rect class="w" x="112.3" y="947" width="21.7" height="7.5"/><rect class="w" x="134" y="947" width="12" height="7.5"/><text class="c" x="122.5" y="937.5">ORGANIZATION</text><text x="100.5" y="945">...</text><text x="100.5" y="952.5">&lt; 1</text><text class="r" x="133" y="952.5">23 rows</text><text class="r" x="145" y="952.5">3 &gt;</text></g>
<g id="ORGANIZATION_RPT_V"><rect class="h" x="215" y="939" width="57" height="7.5"/><rect class="w" x="215" y="946.5" width="57" height="7.5"/><rect class="w" x="215" y="954" width="19" height="7.5"/><rect class="w" x="234" y="954" width="19" height="7.5"/><rect class="w" x="253" y="954" width="19" height="7.5"/><text class="c" x="243.5" y="944.5">ORGANIZATION_RPT_V</text><text x="216.5" y="952">...</text><text x="216.5" y="959.5">&lt; 2</text><text class="r" x="252" y="959.5">view</text></g>
<g id="PERSON"><rect class="h" x="102" y="977" width="40" height="7.5"/><rect class="w" x="102" y="984.5" width="40" height="7.5"/><rect class="w" x="102" y="992" width="10.3" height="7.5"/><rect class="w" x="112.3" y="992" width="21" height="7.5"/><rect class="w" x="133.3" y="992" width="8.7" height="7.5"/><text class="c" x="122" y="982.5">PERSON</text><text x="103.5" y="990">...</text><text x="103.5" y="997.5">&lt; 1</text><text class="r" x="132.3" y="997.5">38 rows</text><text class="r" x="141" y="997.5">3 &gt;</text></g>
<g id="PERSON_RPT_V"><rect class="h" x="223" y="977" width="42" height="7.5"/><rect class="w" x="223" y="984.5" width="42" height="7.5"/><rect class="w" x="223" y="992" width="12" height="7.5"/><rect class="w" x="235" y="992" width="16" height="7.5"/><rect class="w" x="251" y="992" width="14" height="7.5"/><text class="c" x="244" y="982.5">PERSON_RPT_V</text><text x="224.5" y="990">...</text><text x="224.5" y="997.5">&lt; 2</text><text class="r" x="250" y="997.5">view</text></g>
<g id="USR_ACCOUNT"><rect class="h" x="222" y="1023" width="44" height="7.5"/><rect class="w" x="222" y="1030.5" width="44" height="7.5"/><rect class="w" x="222" y="1038" width="9.7" height="7.5"/><rect class="w" x="231.7" y="1038" width="21.6" height="7.5"/><rect class="w" x="253.3" y="1038" width="12.7" height="7.5"/><text class="c" x="244" y="1028.5">USR_ACCOUNT</text><text x="223.5" y="1036">...</text><text x="223.5" y="1043.5">&lt; 2</text><text class="r" x="252.3" y="1043.5">0 rows</text><text class="r" x="265" y="1043.5">1 &gt;</text></g>
<g id="USR_IDENTITY"><rect class="h" x="100" y="1045" width="46" height="7.5"/><rect class="w" x="100" y="1052.5" width="46" height="7.5"/><rect class="w" x="100" y="1060" width="12.7" height="7.5"/><rect class="w" x="112.7" y="1060" width="20" height="7.5"/><rect class="w" x="132.7" y="1060" width="13.3" height="7.5"/><text class="c" x="123" y="1050.5">USR_IDENTITY</text><text x="101.5" y="1058">...</text><text x="101.5" y="1065.5">&lt; 1</text><text class="r" x="131.7" y="1065.5">23 rows</text><text class="r" x="145" y="1065.5">5 &gt;</text></g>
<g id="USR_IDENTITY_RPT_V"><rect class="h" x="216" y="1067" width="56" height="7.5"/><rect class="w" x="216" y="1074.5" width="56" height="7.5"/><rect class="w" x="216" y="1082" width="18.7" height="7.5"/><rect class="w" x="234.7" y="1082" width="18.6" height="7.5"/><rect class="w" x="253.3" y="1082" width="18.7" height="7.5"/><text class="c" x="244" y="1072.5">USR_IDENTITY_RPT_V</text><text x="217.5" y="1080">...</text><text x="217.5" y="1087.5">&lt; 2</text><text class="r" x="252.3" y="1087.5">view</text></g>
<g id="USR_ACCOUNT_RPT_V"><rect class="h" x="320" y="1044" width="58" height="7.5"/><rect class="w" x="320" y="1051.5" width="58" height="7.5"/><rect class="w" x="320" y="1059" width="19.3" height="7.5"/><rect class="w" x="339.3" y="1059" width="19.4" height="7.5"/><rect class="w" x="358.7" y="1059" width="19.3" height="7.5"/><text class="c" x="349" y="1049.5">USR_ACCOUNT_RPT_V</text><text x="321.5" y="1057">...</text><text x="321.5" y="1064.5">&lt; 3</text><text class="r" x="357.7" y="1064.5">view</text></g>
<text x="4" y="1139">Generated by SchemaSpy</text>
</svg>
